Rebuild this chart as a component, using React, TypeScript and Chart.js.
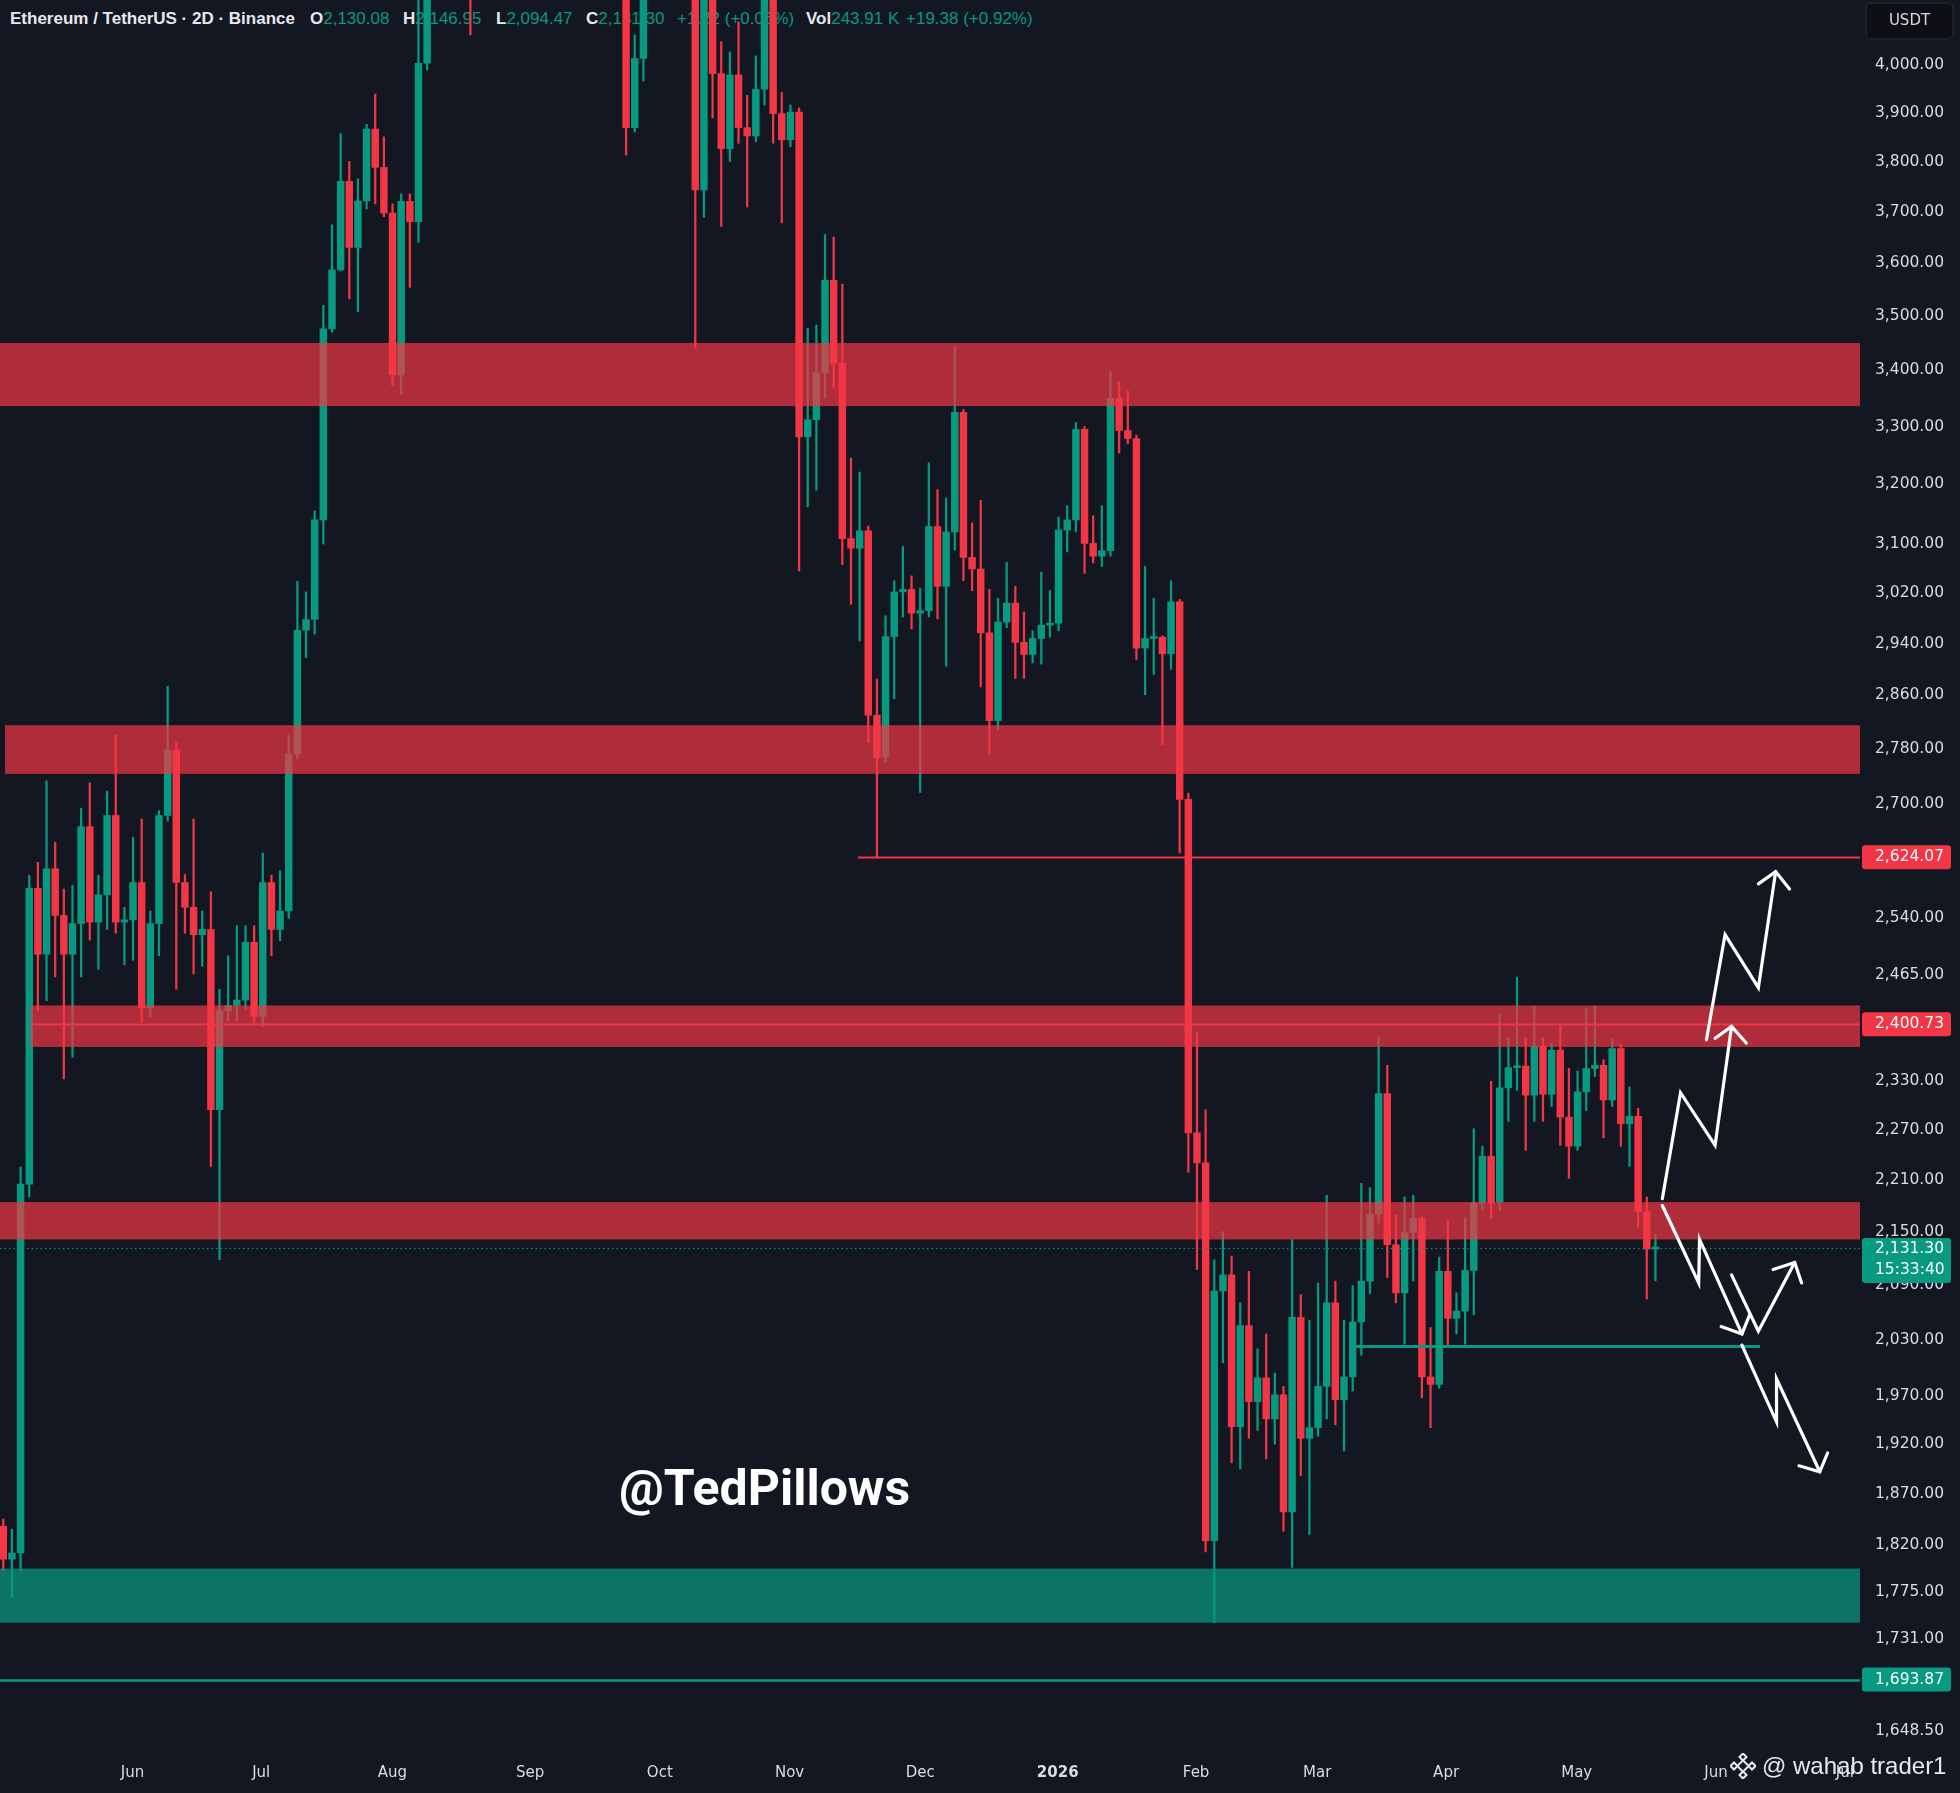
import React, { useEffect, useRef } from 'react';
import { Chart, registerables } from 'chart.js';

Chart.register(...registerables);

const BG = '#131722';
const UP = '#089981';
const DOWN = '#F23645';

// ---- candle data (2D candles, ETH/USDT) ----
const opens = [
  1838, 1806, 1812, 2205, 2581, 2492, 2608, 2544, 2492, 2533,
  2667, 2535, 2572, 2683, 2535, 2538, 2589, 2422, 2533, 2683,
  2778, 2589, 2555, 2518, 2525, 2294, 2418, 2425, 2432, 2508,
  2411, 2589, 2525, 2550, 2772, 2961, 2978, 3140, 3476, 3587,
  3760, 3630, 3721, 3866, 3788, 3697, 3392, 3720, 3680, 4004,
  4200, 4300, 4600, 4720, 4450, 4300, 4330, 4780, 4550, 4370,
  4600, 4400, 4310, 4420, 4300, 4460, 4550, 4640, 4490, 4450,
  4250, 4300, 4200, 3869, 4014, 4200, 4400, 4520, 4690, 4520,
  4350, 3743, 4180, 3982, 3826, 3979, 3869, 3852, 3949, 4160,
  3898, 3844, 3901, 3282, 3312, 3396, 3567, 3413, 3109, 3093,
  3122, 2830, 2767, 2951, 3022, 3026, 2988, 2992, 3129, 3031,
  3120, 3325, 3078, 3059, 2957, 2822, 2974, 3004, 2942, 2923,
  2948, 2969, 2972, 3123, 3140, 3295, 3101, 3080, 3089, 3350,
  3293, 3279, 2933, 2948, 2950, 2924, 3006, 2706, 2266, 2230,
  1824, 2083, 2101, 1938, 2045, 1964, 1989, 1946, 1971, 1852,
  2054, 1926, 1937, 1980, 2070, 1966, 1990, 2049, 2094, 2170,
  2314, 2135, 2081, 2149, 2165, 1990, 1982, 2105, 2053, 2061,
  2106, 2183, 2238, 2184, 2321, 2346, 2348, 2312, 2373, 2313,
  2368, 2285, 2250, 2316, 2345, 2349, 2306, 2370, 2277, 2286,
  2173, 2130.08,
];
const highs = [
  1845, 1835, 2225, 2599, 2617, 2733, 2645, 2580, 2585, 2693,
  2730, 2599, 2718, 2800, 2555, 2652, 2678, 2550, 2690, 2874,
  2790, 2600, 2678, 2550, 2576, 2446, 2490, 2530, 2530, 2530,
  2630, 2599, 2605, 2800, 3039, 3022, 3155, 3520, 3674, 3857,
  3800, 3765, 3876, 3939, 3850, 3715, 3735, 3735, 4180, 4250,
  4340, 4620, 4790, 4750, 4480, 4380, 4790, 4950, 4650, 4620,
  4640, 4480, 4450, 4480, 4490, 4600, 4680, 4660, 4520, 4470,
  4350, 4320, 4230, 4065, 4250, 4420, 4560, 4760, 4720, 4560,
  4400, 4200, 4250, 4050, 4028, 4093, 3936, 4020, 4200, 4200,
  3942, 3916, 3910, 3477, 3483, 3655, 3650, 3560, 3245, 3221,
  3130, 2885, 2984, 3040, 3096, 3048, 3028, 3237, 3191, 3177,
  3445, 3330, 3135, 3173, 3026, 3012, 3070, 3031, 2990, 2960,
  3054, 3024, 3145, 3164, 3307, 3300, 3147, 3164, 3398, 3380,
  3363, 3285, 3063, 3012, 2952, 3040, 3010, 2715, 2391, 2294,
  2118, 2150, 2122, 2070, 2105, 2020, 2036, 1994, 1980, 2141,
  2079, 2051, 2092, 2192, 2094, 2051, 2089, 2206, 2201, 2385,
  2349, 2169, 2190, 2192, 2167, 2043, 2121, 2163, 2081, 2166,
  2271, 2250, 2329, 2414, 2384, 2462, 2384, 2424, 2384, 2377,
  2401, 2345, 2342, 2421, 2424, 2356, 2382, 2375, 2322, 2296,
  2190, 2146.95,
];
const lows = [
  1795, 1770, 1795, 2190, 2418, 2431, 2462, 2332, 2359, 2462,
  2511, 2472, 2525, 2520, 2478, 2484, 2403, 2410, 2490, 2675,
  2446, 2520, 2466, 2476, 2226, 2118, 2405, 2405, 2420, 2403,
  2398, 2490, 2510, 2540, 2765, 2918, 2955, 3100, 3470, 3585,
  3532, 3508, 3705, 3715, 3690, 3372, 3357, 3554, 3640, 3990,
  4160, 4250, 4480, 4400, 4065, 4200, 4300, 4500, 4350, 4340,
  4380, 4250, 4280, 4280, 4270, 4430, 4500, 4450, 4380, 4200,
  4170, 4160, 3813, 3860, 3966, 4180, 4350, 4480, 4480, 4300,
  3441, 3689, 3889, 3671, 3800, 3837, 3709, 3840, 3916, 3837,
  3678, 3830, 3056, 3162, 3190, 3350, 3368, 3066, 3002, 2944,
  2789, 2624.07, 2760, 2855, 2982, 2963, 2716, 2982, 2979, 2905,
  3090, 3040, 3024, 2873, 2773, 2808, 2965, 2886, 2886, 2910,
  2908, 2950, 2960, 3087, 3120, 3052, 3069, 3063, 3080, 3254,
  3270, 2915, 2861, 2892, 2786, 2900, 2630, 2219, 2107, 1813,
  1746, 2005, 1901, 1895, 1926, 1934, 1905, 1920, 1833, 1798,
  1888, 1830, 1928, 1946, 1940, 1913, 1975, 2013, 2080, 2160,
  2098, 2070, 2025, 2094, 1968, 1937, 1978, 2023, 2036, 2025,
  2057, 2175, 2165, 2174, 2280, 2318, 2245, 2280, 2280, 2298,
  2251, 2212, 2245, 2293, 2335, 2260, 2298, 2250, 2226, 2155,
  2074, 2094.47,
];
const closes = [
  1806, 1812, 2205, 2581, 2492, 2608, 2544, 2492, 2533, 2667,
  2535, 2572, 2683, 2535, 2538, 2589, 2422, 2533, 2683, 2778,
  2589, 2555, 2518, 2525, 2294, 2418, 2425, 2432, 2508, 2411,
  2589, 2525, 2550, 2772, 2961, 2978, 3140, 3476, 3587, 3760,
  3630, 3721, 3866, 3788, 3697, 3392, 3720, 3680, 4004, 4200,
  4300, 4600, 4720, 4450, 4300, 4330, 4780, 4550, 4370, 4600,
  4400, 4310, 4420, 4300, 4460, 4550, 4640, 4490, 4450, 4250,
  4300, 4200, 3869, 4014, 4200, 4400, 4520, 4690, 4520, 4350,
  3743, 4180, 3982, 3826, 3979, 3869, 3852, 3949, 4160, 3898,
  3844, 3901, 3282, 3312, 3396, 3567, 3413, 3109, 3093, 3122,
  2830, 2767, 2951, 3022, 3026, 2988, 2992, 3129, 3031, 3120,
  3325, 3078, 3059, 2957, 2822, 2974, 3004, 2942, 2923, 2948,
  2969, 2972, 3123, 3140, 3295, 3101, 3080, 3089, 3350, 3293,
  3279, 2933, 2948, 2950, 2924, 3006, 2706, 2266, 2230, 1824,
  2083, 2101, 1938, 2045, 1964, 1989, 1946, 1971, 1852, 2054,
  1926, 1937, 1980, 2070, 1966, 1990, 2049, 2094, 2170, 2314,
  2135, 2081, 2149, 2165, 1990, 1982, 2105, 2053, 2061, 2106,
  2183, 2238, 2183, 2321, 2346, 2348, 2312, 2373, 2313, 2368,
  2285, 2250, 2316, 2345, 2349, 2306, 2370, 2277, 2286, 2173,
  2130.08, 2131.30,
];

// ---- axes ----
const xMin = -0.38;
const xMax = 214.65;
const yMin = 1631.6;
const yMax = 4141;
const monthTickPositions = [14.94, 29.82, 44.99, 60.9, 75.9, 90.9, 106.0, 121.9, 137.9, 151.9, 166.8, 181.9, 198.0, 212.9];
const monthTickLabels = ['Jun', 'Jul', 'Aug', 'Sep', 'Oct', 'Nov', 'Dec', '2026', 'Feb', 'Mar', 'Apr', 'May', 'Jun', 'Jul'];
const priceTicks = [
  1648.5, 1731, 1775, 1820, 1870, 1920, 1970, 2030, 2090, 2150, 2210, 2270, 2330, 2465, 2540,
  2700, 2780, 2860, 2940, 3020, 3100, 3200, 3300, 3400, 3500, 3600, 3700, 3800, 3900, 4000,
];

// ---- zones (price bands) ----
const zoneLows = [3336, 2743, 2372, 2141, 1746];
const zoneHighs = [3450, 2815, 2425, 2184, 1797];
const zoneStarts = [-0.38, 0.2, 3.2, -0.38, -0.38];
const zoneKinds = ['red', 'red', 'red', 'red', 'green'];

// ---- horizontal levels ----
const levelPrices = [2624.07, 2400.73, 1693.87, 2023, 2131.3];
const levelStarts = [98.8, 3.2, -0.38, 156.2, -0.38];
const levelEnds = [214.65, 214.65, 214.65, 203.1, 214.65];
const levelKinds = ['red', 'red', 'green', 'greenThick', 'dotted'];

// ---- price badges ----
const badgePrices = [2624.07, 2400.73, 2131.3, 1693.87];
const badgeKinds = ['red', 'red', 'green', 'green'];
const badgeSubTexts = ['', '', '15:33:40', ''];

// ---- drawn arrows (candle index, price) ----
const arrowUpperPath = [[196.9, 2381], [199.05, 2518], [202.9, 2448], [204.9, 2604]];
const arrowUpperHead = [[202.9, 2587], [204.9, 2604], [206.5, 2580]];
const arrowLowerPath = [[191.8, 2188], [193.9, 2315], [197.9, 2251], [199.8, 2398]];
const arrowLowerHead = [[197.9, 2383], [199.8, 2398], [201.5, 2377]];
const arrowDownPath = [[191.8, 2180], [196.0, 2092], [196.1, 2141], [201.0, 2036]];
const arrowDownHead = [[198.6, 2044], [201.0, 2036], [201.9, 2057]];
const arrowBouncePath = [[199.8, 2101], [202.9, 2039], [207.1, 2115]];
const arrowBounceHead = [[204.6, 2107], [207.1, 2115], [207.9, 2092]];
const arrowDeepPath = [[201.0, 2024], [205.0, 1943], [205.0, 1988], [210.0, 1892]];
const arrowDeepHead = [[207.6, 1898], [210.0, 1892], [210.9, 1911]];

const fmt = (v: number) =>
  v.toLocaleString('en-US', { minimumFractionDigits: 2, maximumFractionDigits: 2 });

const AXIS_FONT = "'DejaVu Sans', 'Noto Sans', sans-serif";
const Y_FONT_SIZE = 15.5;

function roundRect(ctx: CanvasRenderingContext2D, x: number, y: number, w: number, h: number, r: number) {
  ctx.beginPath();
  ctx.moveTo(x + r, y);
  ctx.lineTo(x + w - r, y);
  ctx.quadraticCurveTo(x + w, y, x + w, y + r);
  ctx.lineTo(x + w, y + h - r);
  ctx.quadraticCurveTo(x + w, y + h, x + w - r, y + h);
  ctx.lineTo(x + r, y + h);
  ctx.quadraticCurveTo(x, y + h, x, y + h - r);
  ctx.lineTo(x, y + r);
  ctx.quadraticCurveTo(x, y, x + r, y);
  ctx.closePath();
}

const overlayPlugin = {
  id: 'overlay',
  afterDatasetDraw(chart: any, args: any) {
    if (args.index !== 1) return;
    const { ctx, chartArea, scales } = chart;
    const xs = scales.x;
    const ys = scales.y;
    ctx.save();
    ctx.beginPath();
    ctx.rect(chartArea.left, chartArea.top, chartArea.right - chartArea.left, chartArea.bottom - chartArea.top);
    ctx.clip();
    zoneLows.forEach((lo, i) => {
      const x0 = xs.getPixelForValue(zoneStarts[i]);
      const x1 = chartArea.right;
      const yT = ys.getPixelForValue(zoneHighs[i]);
      const yB = ys.getPixelForValue(lo);
      ctx.fillStyle = zoneKinds[i] === 'green' ? 'rgba(8, 153, 129, 0.72)' : 'rgba(242, 54, 69, 0.7)';
      ctx.fillRect(x0, yT, x1 - x0, yB - yT);
    });
    levelPrices.forEach((p, i) => {
      const kind = levelKinds[i];
      const yP = Math.round(ys.getPixelForValue(p)) + 0.5;
      const x0 = xs.getPixelForValue(levelStarts[i]);
      const x1 = xs.getPixelForValue(levelEnds[i]);
      ctx.beginPath();
      ctx.setLineDash(kind === 'dotted' ? [1.5, 3] : []);
      ctx.strokeStyle = kind === 'red' ? DOWN : UP;
      ctx.lineWidth = kind === 'greenThick' ? 3.2 : kind === 'green' ? 2.4 : kind === 'dotted' ? 1 : 2;
      ctx.moveTo(x0, yP);
      ctx.lineTo(x1, yP);
      ctx.stroke();
    });
    ctx.setLineDash([]);
    ctx.restore();
  },
  afterDraw(chart: any) {
    const { ctx, chartArea, scales } = chart;
    const ys = scales.y;
    const left = chartArea.right + 2;
    ctx.save();
    badgePrices.forEach((p, i) => {
      const yP = ys.getPixelForValue(p);
      const sub = badgeSubTexts[i];
      ctx.fillStyle = badgeKinds[i] === 'red' ? DOWN : UP;
      if (sub) {
        roundRect(ctx, left, yP - 10, 89, 45, 3);
      } else {
        roundRect(ctx, left, yP - 12, 89, 24, 3);
      }
      ctx.fill();
      ctx.fillStyle = '#ffffff';
      ctx.font = `${Y_FONT_SIZE}px ${AXIS_FONT}`;
      ctx.textAlign = 'left';
      ctx.textBaseline = 'middle';
      ctx.fillText(fmt(p), chartArea.right + 15, yP + (sub ? 1 : 0));
      if (sub) ctx.fillText(sub, chartArea.right + 15, yP + 22);
    });
    // currency box
    roundRect(ctx, chartArea.right + 6, 3, 87, 36, 6);
    ctx.fillStyle = '#0d0f15';
    ctx.fill();
    ctx.strokeStyle = '#2a2e39';
    ctx.lineWidth = 1;
    ctx.stroke();
    ctx.fillStyle = '#d8dbe2';
    ctx.font = `15px ${AXIS_FONT}`;
    ctx.textAlign = 'center';
    ctx.textBaseline = 'middle';
    ctx.fillText('USDT', chartArea.right + 49.5, 21);
    ctx.restore();
  },
};

const toPts = (arr: number[][]) => arr.map(([x, y]) => ({ x, y }));

export default function App() {
  const canvasRef = useRef<HTMLCanvasElement>(null);

  useEffect(() => {
    document.body.style.margin = '0';
    document.body.style.background = BG;
    const canvas = canvasRef.current;
    if (!canvas) return;

    const idx = opens.map((_, i) => i);
    const colors = idx.map((i) => (closes[i] >= opens[i] ? UP : DOWN));

    const arrowSets = [
      arrowUpperPath, arrowUpperHead, arrowLowerPath, arrowLowerHead,
      arrowDownPath, arrowDownHead, arrowBouncePath, arrowBounceHead,
      arrowDeepPath, arrowDeepHead,
    ].map((pts) => ({
      type: 'line' as const,
      data: toPts(pts),
      borderColor: '#ffffff',
      borderWidth: 3.2,
      borderJoinStyle: 'miter' as const,
      borderCapStyle: 'round' as const,
      pointRadius: 0,
      pointHoverRadius: 0,
      fill: false,
      tension: 0,
      order: 0,
    }));

    const chart = new Chart(canvas, {
      type: 'bar',
      data: {
        datasets: [
          {
            label: 'wicks',
            data: idx.map((i) => ({ x: i, y: [lows[i], highs[i]] })) as any,
            backgroundColor: colors,
            barThickness: 1.6,
            grouped: false,
            order: 3,
          },
          {
            label: 'bodies',
            data: idx.map((i) => ({
              x: i,
              y: [Math.min(opens[i], closes[i]), Math.max(opens[i], closes[i])],
            })) as any,
            backgroundColor: colors,
            barThickness: 6.8,
            minBarLength: 2,
            grouped: false,
            order: 2,
          },
          ...(arrowSets as any[]),
        ],
      },
      options: {
        animation: false,
        responsive: false,
        events: [],
        layout: { padding: 0 },
        plugins: {
          legend: { display: false },
          tooltip: { enabled: false },
        },
        scales: {
          x: {
            type: 'linear',
            min: xMin,
            max: xMax,
            offset: false,
            grid: { display: false, drawTicks: true, tickLength: 14, offset: false },
            border: { display: false },
            afterBuildTicks: (scale: any) => {
              scale.ticks = monthTickPositions.map((v) => ({ value: v }));
            },
            afterFit: (scale: any) => {
              scale.height = 43;
            },
            ticks: {
              autoSkip: false,
              maxRotation: 0,
              padding: 0,
              color: '#d9dce3',
              font: (c: any) => ({
                family: AXIS_FONT,
                size: 15,
                weight: monthTickLabels[c.index] === '2026' ? 'bold' : 'normal',
              }),
              callback: (_v: any, i: number) => monthTickLabels[i],
            },
          },
          y: {
            type: 'logarithmic',
            position: 'right',
            min: yMin,
            max: yMax,
            grid: { display: false, drawTicks: true, tickLength: 15 },
            border: { display: false },
            afterBuildTicks: (scale: any) => {
              scale.ticks = priceTicks.map((v) => ({ value: v }));
            },
            afterFit: (scale: any) => {
              scale.width = 100;
            },
            ticks: {
              autoSkip: false,
              padding: 0,
              align: 'start',
              labelOffset: -Y_FONT_SIZE / 2,
              color: '#d9dce3',
              font: { family: AXIS_FONT, size: Y_FONT_SIZE },
              callback: (v: any) => fmt(Number(v)),
            },
          },
        },
      } as any,
      plugins: [overlayPlugin],
    });

    return () => chart.destroy();
  }, []);

  const teal = UP;
  const labelStyle: React.CSSProperties = { position: 'absolute', top: 9, whiteSpace: 'nowrap', lineHeight: '20px' };

  return (
    <div
      style={{
        position: 'relative',
        width: 1960,
        height: 1793,
        background: BG,
        overflow: 'hidden',
        fontFamily: "'Liberation Sans', Arial, sans-serif",
        fontSize: 17,
      }}
    >
      <div style={{ position: 'absolute', left: 0, top: 0, width: 1100, height: 40, zIndex: 0 }}>
        <span style={{ ...labelStyle, left: 10, color: '#e6e8ee', fontWeight: 'bold' }}>
          Ethereum / TetherUS · 2D · Binance
        </span>
        <span style={{ ...labelStyle, left: 310 }}>
          <b style={{ color: '#e6e8ee' }}>O</b>
          <span style={{ color: teal }}>2,130.08</span>
        </span>
        <span style={{ ...labelStyle, left: 403 }}>
          <b style={{ color: '#e6e8ee' }}>H</b>
          <span style={{ color: teal }}>2,146.95</span>
        </span>
        <span style={{ ...labelStyle, left: 496 }}>
          <b style={{ color: '#e6e8ee' }}>L</b>
          <span style={{ color: teal }}>2,094.47</span>
        </span>
        <span style={{ ...labelStyle, left: 586 }}>
          <b style={{ color: '#e6e8ee' }}>C</b>
          <span style={{ color: teal }}>2,131.30</span>
        </span>
        <span style={{ ...labelStyle, left: 677, color: teal }}>+1.22 (+0.06%)</span>
        <span style={{ ...labelStyle, left: 806 }}>
          <b style={{ color: '#e6e8ee' }}>Vol</b>
          <span style={{ color: teal }}>243.91 K</span>
        </span>
        <span style={{ ...labelStyle, left: 906, color: teal }}>+19.38 (+0.92%)</span>
      </div>

      <canvas
        ref={canvasRef}
        width={1960}
        height={1793}
        style={{ position: 'absolute', left: 0, top: 0, zIndex: 1 }}
      />

      <div
        style={{
          position: 'absolute',
          left: 619,
          top: 1462,
          zIndex: 2,
          color: '#ffffff',
          fontFamily: "Roboto, 'Liberation Sans', Arial, sans-serif",
          fontWeight: 'bold',
          fontSize: 50,
          lineHeight: '52px',
          whiteSpace: 'nowrap',
        }}
      >
        @TedPillows
      </div>

      <div
        style={{
          position: 'absolute',
          left: 1730,
          top: 1752,
          zIndex: 2,
          display: 'flex',
          alignItems: 'center',
          color: '#e8e9ec',
          fontSize: 24,
          lineHeight: '28px',
          whiteSpace: 'nowrap',
        }}
      >
        <svg width="26" height="26" viewBox="0 0 26 26" style={{ marginRight: 6 }}>
          <g fill="none" stroke="#e8e9ec" strokeWidth="2">
            <rect x="9" y="9" width="8" height="8" transform="rotate(45 13 13)" />
            <rect x="10.5" y="1.5" width="5" height="5" transform="rotate(45 13 4)" />
            <rect x="10.5" y="19.5" width="5" height="5" transform="rotate(45 13 22)" />
            <rect x="1.5" y="10.5" width="5" height="5" transform="rotate(45 4 13)" />
            <rect x="19.5" y="10.5" width="5" height="5" transform="rotate(45 22 13)" />
          </g>
        </svg>
        <span>@ wahab trader1</span>
      </div>
    </div>
  );
}
